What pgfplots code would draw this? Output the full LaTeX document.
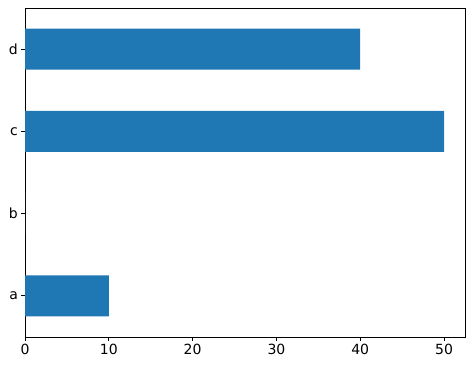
\documentclass[border=0pt]{standalone}
\usepackage{pgfplots}
\pgfplotsset{compat=1.18}
\usepackage{fontspec}
\setmainfont{DejaVu Sans}
\definecolor{mplblue}{HTML}{1F77B4}
\begin{document}
\begin{tikzpicture}[font=\fontsize{14}{16}\selectfont]
\begin{axis}[
  scale only axis,
  width=440pt, height=329pt,
  anchor=south west, at={(0,0)},
  xmin=0, xmax=52.5,
  ymin=-0.5, ymax=3.5,
  ytick={0,1,2,3},
  yticklabels={a,b,c,d},
  xtick={0,10,20,30,40,50},
  tick align=outside,
  tick pos=left,
  major tick length=3.6pt,
  axis line style={line width=0.82pt},
  every tick/.style={line width=0.82pt, black},
  tick label style={font=\fontsize{14}{16}\selectfont},
  /pgf/number format/assume math mode=true,
  xbar, bar width=0.5, bar shift=0pt,
]
\addplot[fill=mplblue, draw=none] coordinates {(10,0) (0,1) (50,2) (40,3)};
\end{axis}
\path[use as bounding box] (-25pt,-29pt) rectangle (449pt,337pt);
\end{tikzpicture}
\end{document}
